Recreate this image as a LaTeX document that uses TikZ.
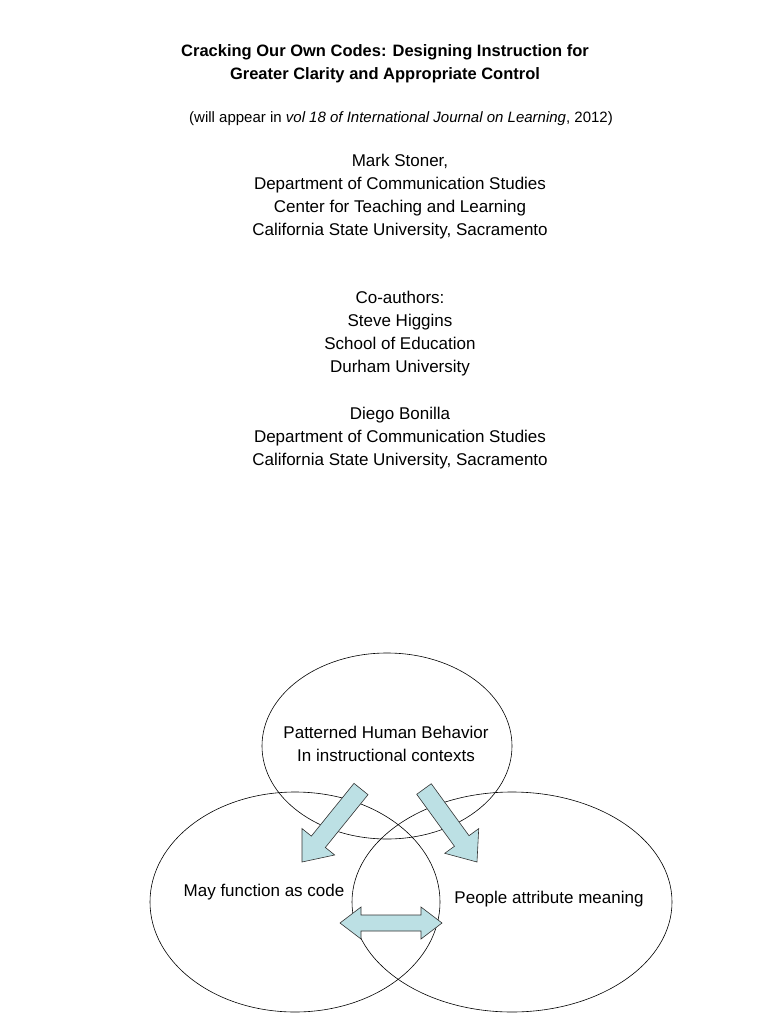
\documentclass[tikz,border=0pt]{standalone}
\usepackage{fontspec}
\setmainfont{Liberation Sans}
\usetikzlibrary{calc}
\definecolor{arrowfill}{RGB}{188,224,228}
\begin{document}
\begin{tikzpicture}[x=1pt,y=-1pt,
  txt/.style={font=\fontsize{17}{23}\selectfont,align=center,inner sep=0pt},
  circ/.style={draw=black,line width=0.6pt,fill=none},
  fat/.style={draw=black!80,line width=0.6pt,fill=arrowfill}]
\useasboundingbox[fill=white] (0,0) rectangle (768,1024);
\node[txt,font=\bfseries\fontsize{16.5}{23}\selectfont] (title) at (385,63.5) {Cracking Our Own Codes: Designing Instruction for\\Greater Clarity and Appropriate Control};
\node[txt,font=\fontsize{15}{18}\selectfont] (sub) at (401,119) {(will appear in \textit{vol 18 of International Journal on Learning}, 2012)};
\node[txt] (a1) at (400,196.5) {Mark Stoner,\\Department of Communication Studies\\Center for Teaching and Learning\\California State University, Sacramento};
\node[txt] (a2) at (400,334) {Co-authors:\\Steve Higgins\\School of Education\\Durham University};
\node[txt] (a3) at (400,438) {Diego Bonilla\\Department of Communication Studies\\California State University, Sacramento};
% ellipses
\draw[circ] (387,746) ellipse [x radius=125, y radius=93];
\draw[circ] (295,902) ellipse [x radius=145, y radius=110];
\draw[circ] (512,902) ellipse [x radius=160, y radius=110];
% arrows
\coordinate (la) at (361,789); \coordinate (lb) at (302,862);
\coordinate (ra) at (424,789); \coordinate (rb) at (477,862);
\foreach \A/\B in {la/lb,ra/rb}{
  \coordinate (h) at ($(\B)!26pt!(\A)$);
  \draw[fat] ($(\A)!9pt!90:(\B)$) -- ($(h)!9pt!-90:(\A)$) -- ($(h)!21pt!-90:(\A)$) -- (\B)
    -- ($(h)!21pt!90:(\A)$) -- ($(h)!9pt!90:(\A)$) -- ($(\A)!9pt!-90:(\B)$) -- cycle;
}
\coordinate (da) at (340,923); \coordinate (db) at (442,923);
\draw[fat] (da) -- (361,907) -- (361,915) -- (421,915) -- (421,907) -- (db) -- (421,939) -- (421,931) -- (361,931) -- (361,939) -- cycle;
\node[txt] (top) at (386,744) {Patterned Human Behavior\\In instructional contexts};
\node[txt] (left) at (264,892) {May function as code};
\node[txt] (right) at (549,899) {People attribute meaning};
\end{tikzpicture}
\end{document}
